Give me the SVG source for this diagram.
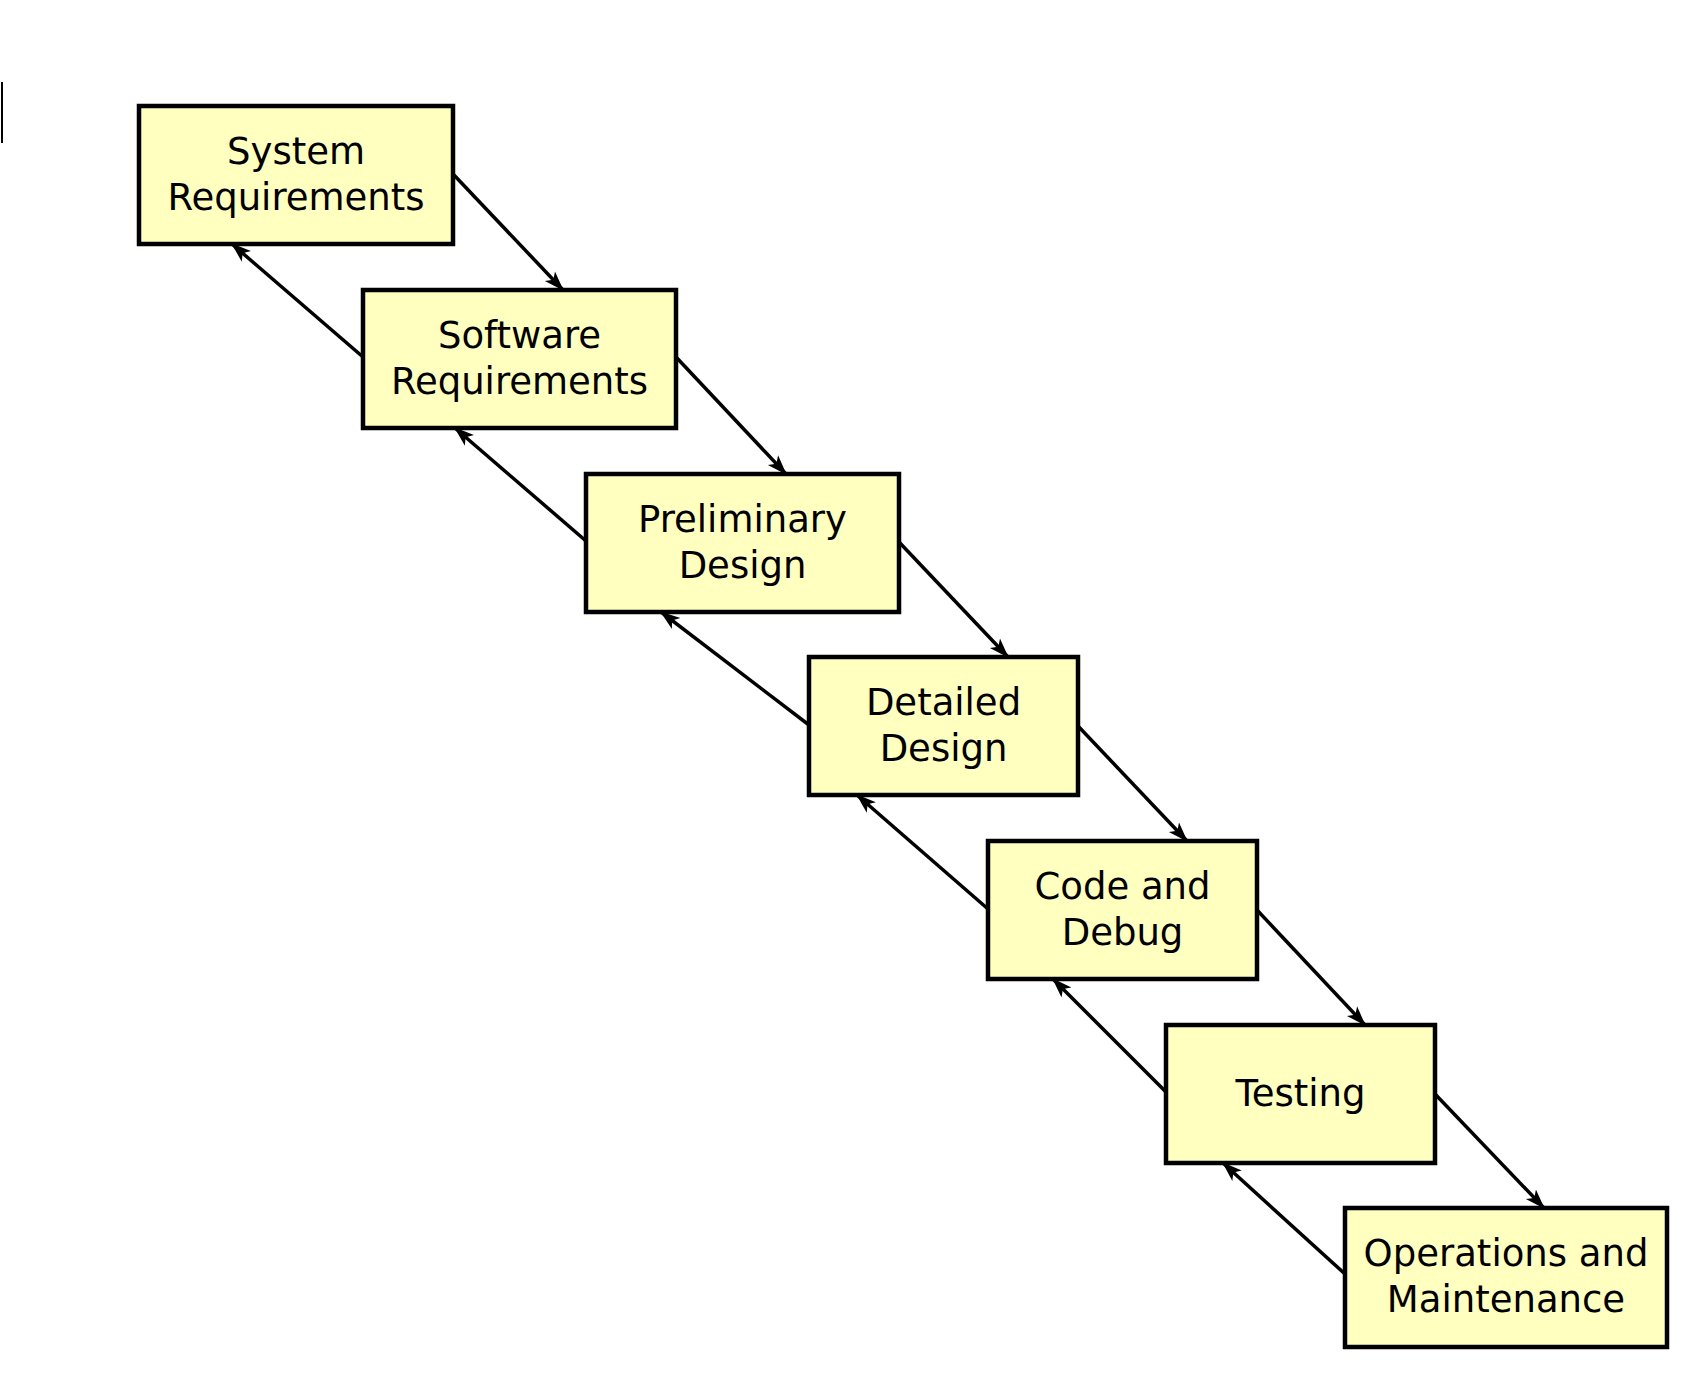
<svg xmlns="http://www.w3.org/2000/svg" width="1707" height="1399" viewBox="0 0 1707 1399">
<style>
.box{fill:#ffffc0;stroke:#000;stroke-width:4.5}
.lbl{font-family:"DejaVu Sans",Verdana,sans-serif;font-size:37px;fill:#000;text-anchor:middle}
.con{stroke:#000;stroke-width:3.5;fill:none;marker-end:url(#ah)}
</style>
<defs>
<marker id="ah" markerUnits="userSpaceOnUse" markerWidth="20" markerHeight="16" viewBox="0 0 20 16" refX="19" refY="8" orient="auto">
<path d="M0,1 L20,8 L0,15 L5,8 Z" fill="#000"/>
</marker>
</defs>
<rect width="1707" height="1399" fill="#fff"/>
<line x1="2" y1="82" x2="2" y2="143" stroke="#000" stroke-width="2"/>
<g id="connectors">
<line class="con" x1="453" y1="174" x2="563" y2="290"/>
<line class="con" x1="676" y1="357" x2="786" y2="474"/>
<line class="con" x1="899" y1="542" x2="1008" y2="657"/>
<line class="con" x1="1078" y1="726" x2="1187" y2="841"/>
<line class="con" x1="1257" y1="910" x2="1365" y2="1025"/>
<line class="con" x1="1435" y1="1094" x2="1544" y2="1208"/>
<line class="con" x1="363" y1="357" x2="232" y2="244"/>
<line class="con" x1="586" y1="541" x2="455" y2="428"/>
<line class="con" x1="809" y1="725" x2="661" y2="612"/>
<line class="con" x1="988" y1="909" x2="857" y2="795"/>
<line class="con" x1="1166" y1="1092" x2="1053" y2="979"/>
<line class="con" x1="1345" y1="1274" x2="1223" y2="1163"/>
</g>
<g id="system-requirements">
<rect class="box" x="139" y="106" width="314" height="138"/>
<text class="lbl" x="296" y="164">System</text>
<text class="lbl" x="296" y="210">Requirements</text>
</g>
<g id="software-requirements">
<rect class="box" x="363" y="290" width="313" height="138"/>
<text class="lbl" x="519.5" y="348">Software</text>
<text class="lbl" x="519.5" y="394">Requirements</text>
</g>
<g id="preliminary-design">
<rect class="box" x="586" y="474" width="313" height="138"/>
<text class="lbl" x="742.5" y="532">Preliminary</text>
<text class="lbl" x="742.5" y="578">Design</text>
</g>
<g id="detailed-design">
<rect class="box" x="809" y="657" width="269" height="138"/>
<text class="lbl" x="943.5" y="715">Detailed</text>
<text class="lbl" x="943.5" y="761">Design</text>
</g>
<g id="code-and-debug">
<rect class="box" x="988" y="841" width="269" height="138"/>
<text class="lbl" x="1122.5" y="899">Code and</text>
<text class="lbl" x="1122.5" y="945">Debug</text>
</g>
<g id="testing">
<rect class="box" x="1166" y="1025" width="269" height="138"/>
<text class="lbl" x="1300.5" y="1106">Testing</text>
</g>
<g id="operations-and-maintenance">
<rect class="box" x="1345" y="1208" width="322" height="139"/>
<text class="lbl" x="1506" y="1266">Operations and</text>
<text class="lbl" x="1506" y="1312">Maintenance</text>
</g>
</svg>
